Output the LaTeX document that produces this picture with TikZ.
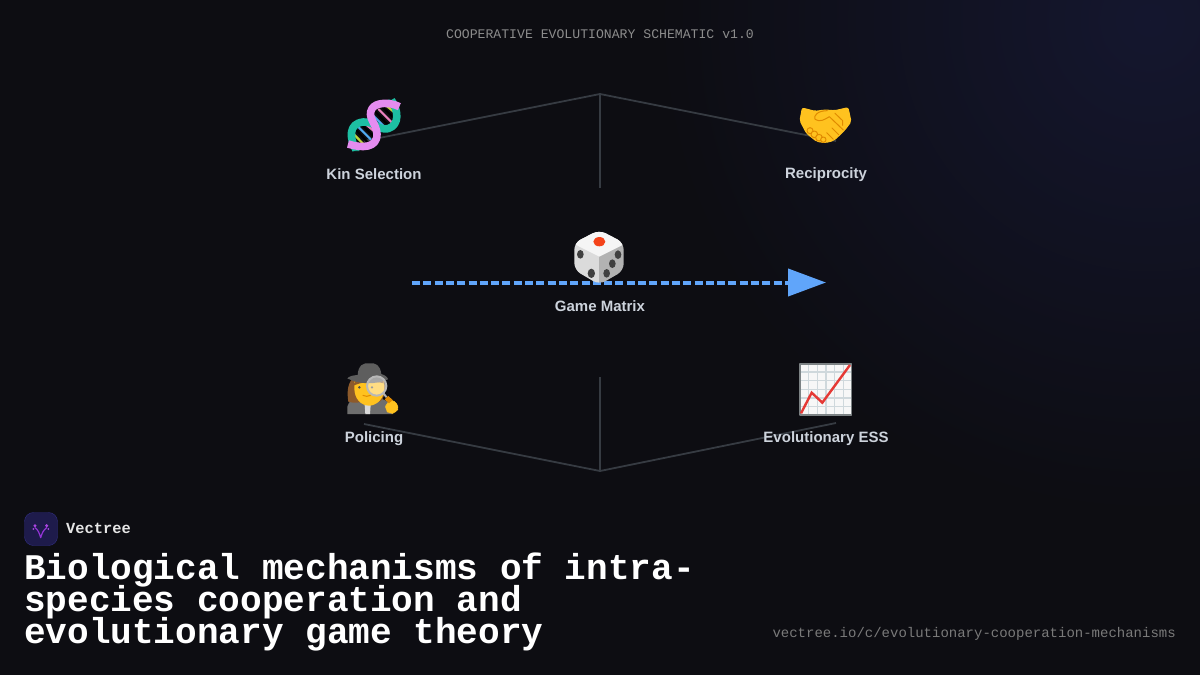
\documentclass[tikz,border=0pt]{standalone}
\usepackage{fontspec}
\setmainfont{Liberation Sans}
\newfontfamily\monof{Liberation Mono}
\usetikzlibrary{arrows.meta,fadings,shapes.geometric}
\definecolor{bgbase}{HTML}{0D0D12}
\definecolor{bgglow}{HTML}{15172F}
\definecolor{linec}{HTML}{363B42}
\definecolor{labelc}{HTML}{CDD3DC}
\definecolor{arrowc}{HTML}{60A5FA}
\definecolor{dnateal}{HTML}{1DBFA3}
\definecolor{dnapink}{HTML}{E58CF0}
\definecolor{hyel}{HTML}{FFC21F}
\definecolor{hora}{HTML}{E08A00}
\definecolor{coat}{HTML}{6E6E6E}
\definecolor{hatc}{HTML}{5E5E5E}
\definecolor{hair}{HTML}{8D5A2B}
\definecolor{gridc}{HTML}{CFD8DC}
\definecolor{redc}{HTML}{E53935}
\definecolor{logofill}{HTML}{1E1B4B}
\definecolor{logoline}{HTML}{312E81}
\definecolor{logov}{HTML}{9333D6}
\definecolor{logod}{HTML}{AA46E1}
\definecolor{rungb}{HTML}{50AAF0}
\definecolor{rungy}{HTML}{BED73C}
\definecolor{rungp}{HTML}{EB82BE}
\definecolor{dicer}{HTML}{F4431A}
\tikzfading[name=glowfade,inner color=transparent!0,outer color=transparent!100]
\tikzset{
  conn/.style={draw=linec,line width=1.8pt},
  nlabel/.style={font=\bfseries\fontsize{15}{18}\selectfont,text=labelc,inner sep=0pt},
  ems/.style={x=0.33333pt,y=-0.33333pt,line join=round},
  ttext/.style={anchor=base west,inner sep=0pt,text=white,font=\monof\bfseries\fontsize{36.05}{36}\selectfont},
}
\begin{document}
\begin{tikzpicture}[x=1pt,y=-1pt]
\useasboundingbox (0,0) rectangle (1200,675);
\fill[bgbase] (0,0) rectangle (1200,675);
\begin{scope}
\clip (0,0) rectangle (1200,675);
\fill[bgglow,path fading=glowfade] (1150,20) circle[radius=500];
\end{scope}

% hubs and free ends
\coordinate (hubT) at (600,94);
\coordinate (hubB) at (600,471);
\coordinate (kinE) at (364,141);
\coordinate (recE) at (836,141);
\coordinate (polE) at (364,424);
\coordinate (essE) at (836,423);
\coordinate (midT) at (600,188);
\coordinate (midB) at (600,377);
\coordinate (arrS) at (412,282.5);
\coordinate (arrE) at (826,282.5);

\draw[conn] (kinE) -- (hubT);
\draw[conn] (recE) -- (hubT);
\draw[conn] (midT) -- (hubT);
\draw[conn] (polE) -- (hubB);
\draw[conn] (essE) -- (hubB);
\draw[conn] (midB) -- (hubB);
\draw[arrowc,line width=4pt,dash pattern=on 8pt off 3.3pt,-{Triangle[length=38pt,width=27pt]}] (arrS) -- (arrE);

\node[font=\monof\fontsize{13.15}{16}\selectfont,text=black!45!white,inner sep=0pt] (ttl) at (600,34.5) {COOPERATIVE EVOLUTIONARY SCHEMATIC v1.0};

\node[nlabel] (kin) at (374,174.4) {Kin Selection};
\node[nlabel] (rec) at (826,174.4) {Reciprocity};
\node[nlabel] (game) at (600,306.4) {Game Matrix};
\node[nlabel] (pol) at (374,438.4) {Policing};
\node[nlabel] (ess) at (826,438.4) {Evolutionary ESS};

% DNA
\begin{scope}[shift={(320,80)},ems]
\fill[dnateal!80!black] (205,58) -- (228,62) -- (228,85) -- (205,75) -- cycle;
\fill[dnateal!80!black] (97,195) -- (118,195) -- (118,213) -- (100,213) -- cycle;
\begin{scope}[line width=2.2pt,line cap=round]
\draw[rungy] (94,155) -- (130,192);
\draw[black] (104,145) -- (142,186);
\draw[rungb] (112,138) -- (152,178);
\draw[black] (122,132) -- (162,170);
\draw[rungp] (134,130) -- (170,160);
\draw[rungb] (158,105) -- (195,142);
\draw[black] (166,95) -- (205,135);
\draw[rungp] (176,88) -- (214,126);
\draw[black] (188,82) -- (224,116);
\draw[rungy] (200,78) -- (232,104);
\end{scope}
\draw[dnateal,line width=7.6pt] (108,210) .. controls (88,175) and (85,130) .. (130,126) .. controls (165,124) and (175,152) .. (204,146) .. controls (240,135) and (235,90) .. (214,60);
\draw[dnapink,line width=7.6pt] (84,192) .. controls (125,205) and (172,205) .. (171,162) .. controls (170,130) and (140,112) .. (156,86) .. controls (168,66) and (210,66) .. (238,80);
\end{scope}

% Handshake
\begin{scope}[shift={(770,80)},ems]
\fill[hyel,draw=hyel,line width=1pt,rounded corners=2pt] (97,84) -- (135,94) -- (165,90) -- (195,92) -- (234,83) -- (243,125) -- (224,150) -- (208,166) -- (190,182) -- (165,188) -- (140,184) -- (110,160) -- (90,122) -- cycle;
\draw[hora,line width=1pt,line cap=round] (172,92) .. controls (145,92) and (130,105) .. (135,118) .. controls (150,128) and (165,118) .. (178,110) -- (220,150);
\draw[hora,line width=1pt,line cap=round] (195,100) -- (218,122) -- (218,136);
\draw[hora,line width=1pt,line cap=round] (190,178) -- (170,158);
\draw[hora,line width=1pt,line cap=round] (206,164) -- (186,144);
\draw[hora,line width=1pt,fill=hyel] (120,152) circle[radius=9];
\draw[hora,line width=1pt,fill=hyel] (133,163) circle[radius=10];
\draw[hora,line width=1pt,fill=hyel] (147,173) circle[radius=10];
\draw[hora,line width=1pt,fill=hyel] (160,179) circle[radius=8];
\end{scope}

% Dice
\begin{scope}[shift={(540,220)},ems]
\begin{scope}
\clip[rounded corners=7pt] (178,30) -- (251,68) -- (251,152) -- (178,194) -- (103,150) -- (103,68) -- cycle;
\fill[white!86!black] (95,25) rectangle (178,200);
\fill[white!70!black] (178,25) rectangle (260,200);
\fill[white!96!black] (178,25) -- (262,68) -- (178,110) -- (95,68) -- cycle;
\end{scope}
\fill[dicer] (178,65) ellipse[x radius=18,y radius=14];
\fill[black!75!white] (121,103) ellipse[x radius=10,y radius=13];
\fill[black!75!white] (154,160) ellipse[x radius=11,y radius=14];
\fill[black!75!white] (234,104) ellipse[x radius=10,y radius=13];
\fill[black!75!white] (217,131) ellipse[x radius=10,y radius=13];
\fill[black!75!white] (200,160) ellipse[x radius=10,y radius=13];
\end{scope}

% Detective
\begin{scope}[shift={(320,350)},ems]
\fill[coat] (82,192) -- (82,170) .. controls (85,150) and (105,148) .. (125,143) -- (170,143) .. controls (195,148) and (216,155) .. (218,192) -- cycle;
\fill[white!85!black] (136,192) -- (134,165) -- (152,165) -- (150,192) -- cycle;
\fill[hair] (85,155) .. controls (78,110) and (90,85) .. (110,80) -- (190,80) -- (195,110) .. controls (195,130) and (190,150) .. (180,155) -- (100,158) -- cycle;
\fill[hyel] (103,95) -- (192,95) -- (192,120) .. controls (192,150) and (165,167) .. (148,167) .. controls (122,167) and (103,145) .. (103,115) -- cycle;
\fill[hair] (98,108) -- (110,88) -- (185,85) -- (192,100) .. controls (160,92) and (125,95) .. (98,108) -- cycle;
\fill[hatc] (113,75) .. controls (115,45) and (130,38) .. (148,40) .. controls (168,38) and (180,45) .. (184,72) .. controls (195,75) and (204,83) .. (204,88) .. controls (170,104) and (115,104) .. (82,85) .. controls (88,78) and (100,76) .. (113,75) -- cycle;
\fill[black!70!white] (118,112) circle[radius=4];
\fill[black!70!white] (156,112) circle[radius=4];
\draw[hora,line width=1pt] (128,136) .. controls (135,140) and (145,140) .. (152,136);
\draw[gray!60!white,line width=2pt] (190,130) -- (200,142);
\fill[hyel,draw=hyel,line width=0.5pt,rounded corners=4pt] (198,162) -- (215,146) -- (238,170) -- (228,188) -- (208,192) -- (196,178) -- cycle;
\fill[hora] (194,148) -- (205,138) -- (218,150) -- (207,160) -- cycle;
\fill[white,opacity=0.45] (170,108) circle[radius=29];
\draw[white!72!black,line width=2pt] (170,108) circle[radius=29];
\end{scope}

% Chart
\begin{scope}[shift={(770,350)},ems]
\fill[white!97!black] (90,42) rectangle (245,195);
\foreach \g in {116,142,168,194,220} \draw[gridc,line width=1.1pt] (\g,42) -- (\g,195);
\foreach \g in {66,92,118,144,170} \draw[gridc,line width=1.1pt] (90,\g) -- (245,\g);
\draw[black!40!gridc,line width=1.1pt] (90,42) rectangle (245,195);
\draw[redc,line width=2.4pt,line join=miter] (93,190) -- (125,128) -- (157,158) -- (240,45);
\end{scope}

% Logo
\node[draw=logoline,fill=logofill,rounded corners=9pt,minimum width=33pt,minimum height=33pt,inner sep=0pt] (logo) at (41,529) {};
\begin{scope}[shift={(10,505)},ems]
\draw[logov,line width=1.2pt,line cap=round] (75,68) .. controls (85,75) and (88,85) .. (92,98) .. controls (96,85) and (100,75) .. (110,68);
\fill[logod] (75,62) circle[radius=5];
\fill[logod] (110,62) circle[radius=5];
\fill[logod] (70,72) circle[radius=3];
\fill[logod] (115,72) circle[radius=3];
\end{scope}

\node[anchor=base west,inner sep=0pt,text=white!90!black,font=\monof\bfseries\fontsize{15.4}{18}\selectfont] (brand) at (66,533) {Vectree};
\node[ttext] (t1) at (24,579) {Biological mechanisms of intra-};
\node[ttext] (t2) at (24,611.4) {species cooperation and};
\node[ttext] (t3) at (24,643.8) {evolutionary game theory};
\node[anchor=base east,inner sep=0pt,text=black!52!white,font=\monof\fontsize{14}{16}\selectfont] (url) at (1176,637) {vectree.io/c/evolutionary-cooperation-mechanisms};
\end{tikzpicture}
\end{document}
